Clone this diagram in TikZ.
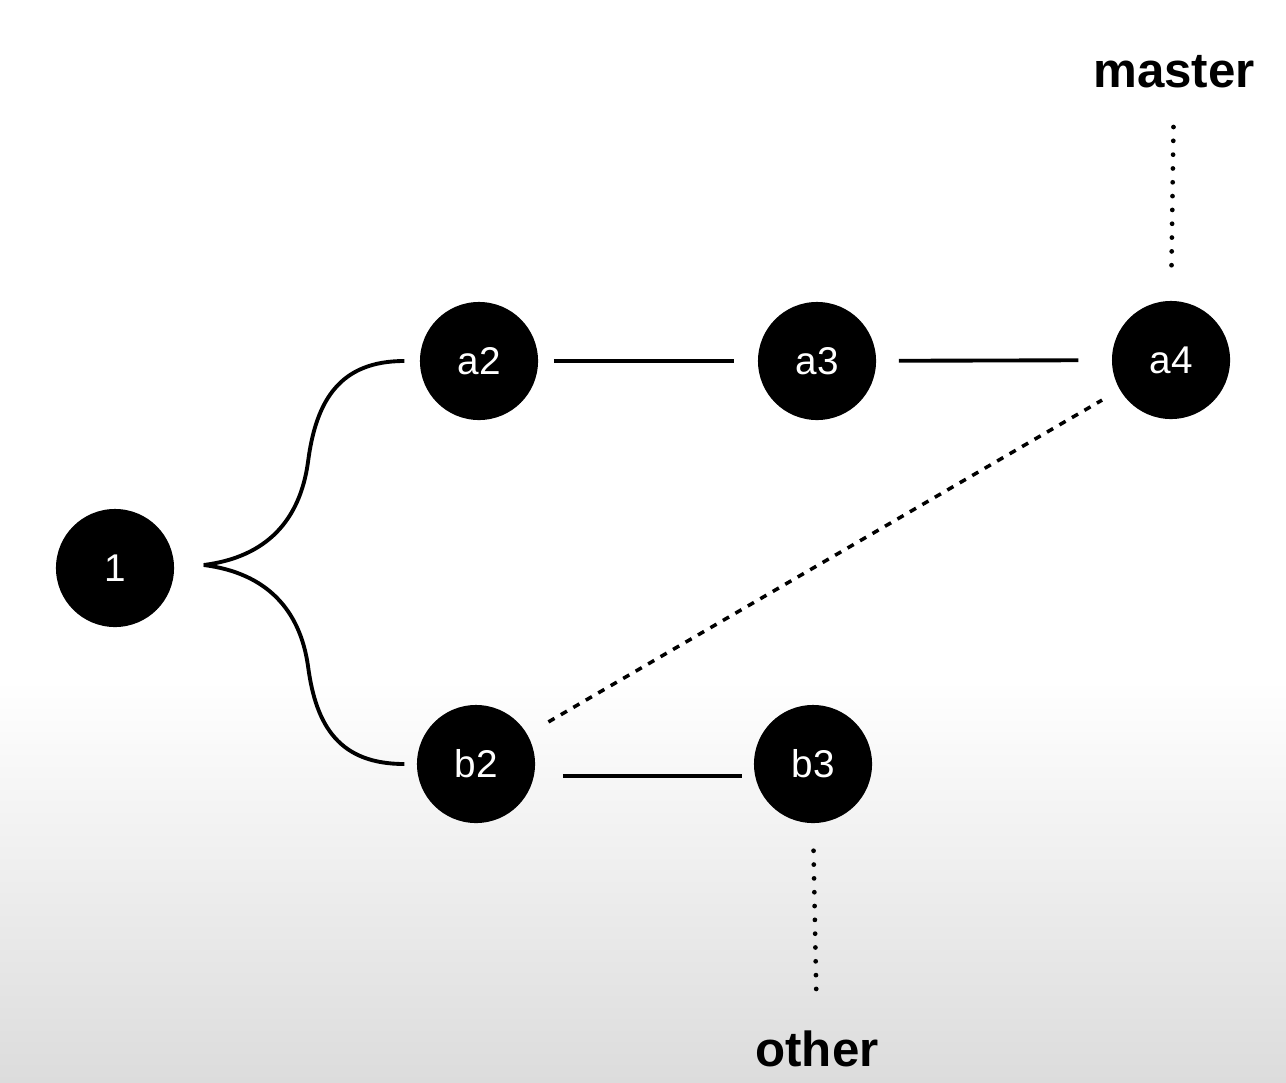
\documentclass[tikz,border=0pt]{standalone}
\usepackage{fontspec}
\setmainfont{Liberation Sans}
\usetikzlibrary{calc}
\definecolor{bggray}{HTML}{DCDCDC}
\tikzset{
  commit/.style={circle, fill=black, draw=none, minimum size=1.18cm, inner sep=0pt,
    text=white, font=\fontsize{11}{13}\selectfont},
  branchlabel/.style={inner sep=0pt, font=\fontsize{14}{16}\selectfont\bfseries},
  solidline/.style={line width=1.1pt},
  dottedline/.style={line width=1.35pt, line cap=round, dash pattern=on 0pt off 3.93pt},
  dashedline/.style={line width=1pt, dash pattern=on 2pt off 2.1pt},
}
\begin{document}
\begin{tikzpicture}[x=0.01cm, y=-0.01cm]
\useasboundingbox (0,0) rectangle (1286,1082);
\fill[white] (0,0) rectangle (1286,680);
\shade[top color=white, bottom color=bggray] (0,680) rectangle (1286,1082);

\node[commit] (n1) at (115,568) {1};
\node[commit] (a2) at (479,361) {a2};
\node[commit] (a3) at (817,361) {a3};
\node[commit] (a4) at (1171,360) {a4};
\node[commit] (b2) at (476,764) {b2};
\node[commit] (b3) at (813,764) {b3};
\node[branchlabel] (master) at (1174,72) {master};
\node[branchlabel] (other) at (817,1049) {other};

\coordinate (fork) at ($(n1.east)+(29,-3)$);
\coordinate (a2in) at ($(a2.west)+(-15,0)$);
\coordinate (b2in) at ($(b2.west)+(-12,0)$);

\draw[solidline] (fork) .. controls (267,557) and (300,520) .. (308,462)
  .. controls (316,400) and (340,361) .. (a2in);
\draw[solidline] (fork) .. controls (267,573) and (300,610) .. (308,666)
  .. controls (316,727) and (340,764) .. (b2in);

\draw[solidline, shorten <=0.15cm, shorten >=0.23cm] (a2) -- (a3);
\draw[solidline, shorten <=0.22cm, shorten >=0.33cm] (a3) -- (a4);
\draw[solidline, shorten <=0.27cm, shorten >=0.11cm]
  ($(b2.east)+(0,12)$) -- ($(b3.west)+(0,12)$);

\draw[dashedline, shorten <=0.24cm, shorten >=0.2cm] (b2) -- (a4);

\draw[dottedline, shorten <=0.38cm, shorten >=0.3cm] (master.south) -- (a4.north);
\draw[dottedline, shorten <=0.27cm, shorten >=0.4cm] (b3.south) -- (other.north);
\end{tikzpicture}
\end{document}
